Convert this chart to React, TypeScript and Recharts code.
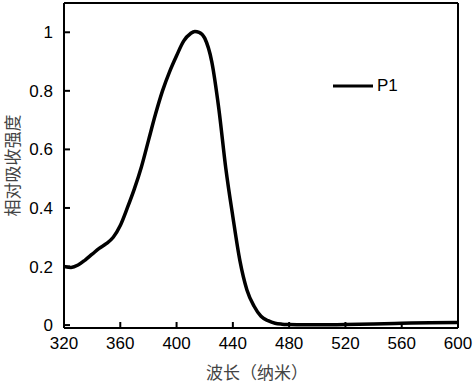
import React from "react";
import {
  LineChart,
  Line,
  XAxis,
  YAxis,
  ReferenceLine,
  Legend,
} from "recharts";

// wavelength (nm) and relative absorbance
const wavelengths = [
  320, 325, 330, 335, 340, 345, 350, 355, 360, 365, 370, 375, 380, 385, 390,
  395, 400, 405, 410, 413, 416, 420, 425, 430, 435, 440, 445, 450, 455, 460,
  465, 470, 475, 480, 490, 500, 520, 540, 560, 580, 600,
];
const absorbance = [
  0.2, 0.197, 0.205, 0.222, 0.242, 0.262, 0.278, 0.3, 0.34, 0.4, 0.465, 0.54,
  0.63, 0.72, 0.8, 0.865, 0.92, 0.97, 0.996, 1.003, 1.0, 0.98, 0.9, 0.74,
  0.535, 0.37, 0.22, 0.12, 0.065, 0.03, 0.015, 0.006, 0.003, 0.002, 0.001,
  0.001, 0.002, 0.004, 0.006, 0.008, 0.009,
];
const xTicks = [320, 360, 400, 440, 480, 520, 560, 600];
const yTicks = [0, 0.2, 0.4, 0.6, 0.8, 1];

const data = wavelengths.map((w, i) => ({ w, p1: absorbance[i] }));

const font = "'Liberation Sans', Arial, sans-serif";
const cjk = "'Noto Sans CJK SC', sans-serif";

const YLabel = ({ viewBox }: any) => {
  const x = viewBox.x + 11;
  const y = viewBox.y + viewBox.height / 2;
  return (
    <text
      x={x}
      y={y}
      transform={`rotate(-90 ${x} ${y})`}
      textAnchor="middle"
      dominantBaseline="central"
      fontFamily={cjk}
      fontSize={17}
      fill="#444"
    >
      相对吸收强度
    </text>
  );
};

const XLabel = ({ viewBox }: any) => (
  <text
    x={viewBox.x + viewBox.width / 2 - 4}
    y={viewBox.y + 43}
    textAnchor="middle"
    dominantBaseline="central"
    fontFamily={cjk}
    fontSize={17}
    fill="#444"
  >
    波长（纳米）
  </text>
);

const LegendBox = () => (
  <div style={{ display: "flex", alignItems: "center", fontFamily: font, fontSize: 17 }}>
    <svg width={40} height={6}>
      <line x1={0} y1={3} x2={40} y2={3} stroke="#000" strokeWidth={3} />
    </svg>
    <span style={{ marginLeft: 4 }}>P1</span>
  </div>
);

export default function App() {
  return (
    <div style={{ position: "absolute", left: 0, top: 0, background: "#fff" }}>
      <LineChart
        width={474}
        height={384}
        data={data}
        margin={{ top: 3, right: 16, left: 0, bottom: 0 }}
      >
        <XAxis
          dataKey="w"
          type="number"
          domain={[320, 600]}
          ticks={xTicks}
          allowDataOverflow
          stroke="#000"
          strokeWidth={2}
          tickSize={-6}
          tickMargin={15}
          tick={{ fill: "#000", fontSize: 17, fontFamily: font }}
          height={56}
          label={<XLabel />}
        />
        <YAxis
          type="number"
          domain={[-0.01, 1.1]}
          ticks={yTicks}
          allowDataOverflow
          stroke="#000"
          strokeWidth={2}
          tickSize={-6}
          tickMargin={17}
          tick={{ fill: "#000", fontSize: 17, fontFamily: font }}
          width={64}
          label={<YLabel />}
        />
        <ReferenceLine x={600} stroke="#000" strokeWidth={2} />
        <ReferenceLine y={1.1} stroke="#000" strokeWidth={2} />
        <Legend
          layout="horizontal"
          verticalAlign="middle"
          align="center"
          content={<LegendBox />}
          wrapperStyle={{ left: 333, top: 76, width: "auto" }}
        />
        <Line
          type="monotone"
          dataKey="p1"
          name="P1"
          stroke="#000"
          strokeWidth={3.5}
          dot={false}
          isAnimationActive={false}
        />
      </LineChart>
    </div>
  );
}
